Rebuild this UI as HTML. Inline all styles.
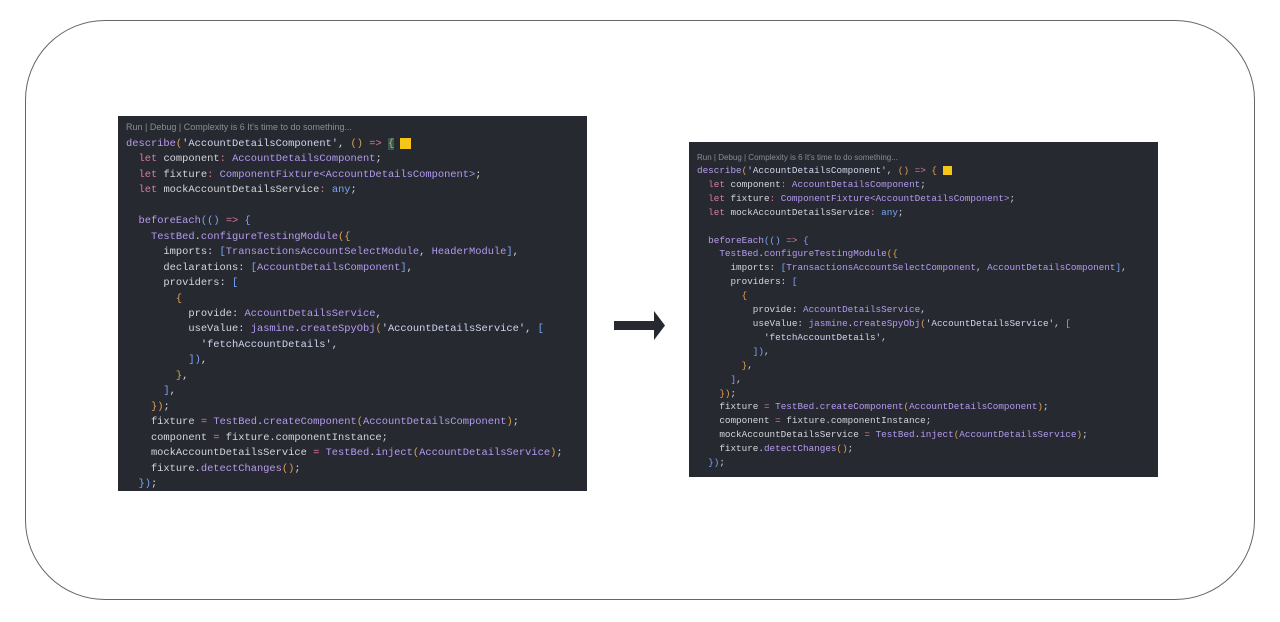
<!DOCTYPE html>
<html><head><meta charset="utf-8"><style>
body{margin:0;width:1280px;height:622px;background:#fff;position:relative;overflow:hidden;font-family:"Liberation Sans",sans-serif}
.outer{position:absolute;left:25px;top:20px;width:1228px;height:578px;border:1px solid #666;border-radius:80px}
.panel{position:absolute;background:#262930;overflow:hidden}
.panel pre{margin:0;font-family:"Liberation Mono",monospace;color:#d4d6dc;white-space:pre}
.run{font-family:"Liberation Sans",sans-serif;color:#8a8d94}
.k{color:#e07a9c}.f{color:#b99bf0}.t{color:#b39af0}.s{color:#cfd6ef}.b{color:#79a6f7}.o{color:#e0a050}.p{color:#e07a9c}
.sq{display:inline-block;background:#f5c518;vertical-align:middle}
</style></head><body>
<div class="outer"></div>

<div class="panel" style="left:118px;top:116px;width:469px;height:375px">
<div class="run" style="position:absolute;left:8px;top:6px;font-size:9px">Run | Debug | Complexity is 6 It's time to do something...</div>
<pre style="position:absolute;left:8px;top:21px;font-size:10.4px;line-height:15.45px"><span class="f">describe</span><span class="o">(</span><span class="s">'AccountDetailsComponent'</span>, <span class="o">()</span> <span class="p">=&gt;</span> <span class="o" style="background:#2e5a55">{</span> <span class="sq" style="width:11px;height:11px"></span>
  <span class="k">let</span> component<span class="p">:</span> <span class="t">AccountDetailsComponent</span>;
  <span class="k">let</span> fixture<span class="p">:</span> <span class="t">ComponentFixture&lt;AccountDetailsComponent&gt;</span>;
  <span class="k">let</span> mockAccountDetailsService<span class="p">:</span> <span class="b">any</span>;

  <span class="f">beforeEach</span><span class="b">(()</span> <span class="p">=&gt;</span> <span class="b">{</span>
    <span class="t">TestBed</span>.<span class="f">configureTestingModule</span><span class="o">({</span>
      imports: <span class="b">[</span><span class="t">TransactionsAccountSelectModule</span>, <span class="t">HeaderModule</span><span class="b">]</span>,
      declarations: <span class="b">[</span><span class="t">AccountDetailsComponent</span><span class="b">]</span>,
      providers: <span class="b">[</span>
        <span class="o">{</span>
          provide: <span class="t">AccountDetailsService</span>,
          useValue: <span class="t">jasmine</span>.<span class="f">createSpyObj</span><span class="o">(</span><span class="s">'AccountDetailsService'</span>, <span class="b">[</span>
            <span class="s">'fetchAccountDetails'</span>,
          <span class="b">])</span>,
        <span class="o">}</span>,
      <span class="b">]</span>,
    <span class="o">})</span>;
    fixture <span class="p">=</span> <span class="t">TestBed</span>.<span class="f">createComponent</span><span class="o">(</span><span class="t">AccountDetailsComponent</span><span class="o">)</span>;
    component <span class="p">=</span> fixture.componentInstance;
    mockAccountDetailsService <span class="p">=</span> <span class="t">TestBed</span>.<span class="f">inject</span><span class="o">(</span><span class="t">AccountDetailsService</span><span class="o">)</span>;
    fixture.<span class="f">detectChanges</span><span class="o">()</span>;
  <span class="b">})</span>;</pre>
</div>

<svg style="position:absolute;left:610px;top:308px" width="60" height="36"><polygon points="4,13 44,13 44,3 55,17.5 44,32 44,22 4,22" fill="#262930"/></svg>

<div class="panel" style="left:689px;top:142px;width:469px;height:335px">
<div class="run" style="position:absolute;left:8px;top:11px;font-size:8px">Run | Debug | Complexity is 6 It's time to do something...</div>
<pre style="position:absolute;left:8px;top:22px;font-size:9.3px;line-height:13.9px"><span class="f">describe</span><span class="o">(</span><span class="s">'AccountDetailsComponent'</span>, <span class="o">()</span> <span class="p">=&gt;</span> <span class="o">{</span> <span class="sq" style="width:9px;height:9px"></span>
  <span class="k">let</span> component<span class="p">:</span> <span class="t">AccountDetailsComponent</span>;
  <span class="k">let</span> fixture<span class="p">:</span> <span class="t">ComponentFixture&lt;AccountDetailsComponent&gt;</span>;
  <span class="k">let</span> mockAccountDetailsService<span class="p">:</span> <span class="b">any</span>;

  <span class="f">beforeEach</span><span class="b">(()</span> <span class="p">=&gt;</span> <span class="b">{</span>
    <span class="t">TestBed</span>.<span class="f">configureTestingModule</span><span class="o">({</span>
      imports: <span class="b">[</span><span class="t">TransactionsAccountSelectComponent</span>, <span class="t">AccountDetailsComponent</span><span class="b">]</span>,
      providers: <span class="b">[</span>
        <span class="o">{</span>
          provide: <span class="t">AccountDetailsService</span>,
          useValue: <span class="t">jasmine</span>.<span class="f">createSpyObj</span><span class="o">(</span><span class="s">'AccountDetailsService'</span>, <span class="b">[</span>
            <span class="s">'fetchAccountDetails'</span>,
          <span class="b">])</span>,
        <span class="o">}</span>,
      <span class="b">]</span>,
    <span class="o">})</span>;
    fixture <span class="p">=</span> <span class="t">TestBed</span>.<span class="f">createComponent</span><span class="o">(</span><span class="t">AccountDetailsComponent</span><span class="o">)</span>;
    component <span class="p">=</span> fixture.componentInstance;
    mockAccountDetailsService <span class="p">=</span> <span class="t">TestBed</span>.<span class="f">inject</span><span class="o">(</span><span class="t">AccountDetailsService</span><span class="o">)</span>;
    fixture.<span class="f">detectChanges</span><span class="o">()</span>;
  <span class="b">})</span>;</pre>
</div>
</body></html>
